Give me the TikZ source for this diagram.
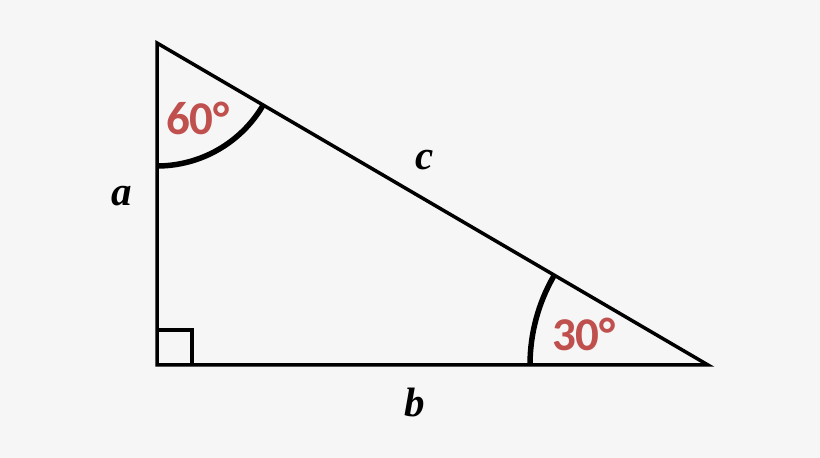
\documentclass[tikz,border=0pt]{standalone}
\usepackage{fontspec}
\setmainfont{Liberation Serif}
\newfontfamily\numfont{Carlito}
\definecolor{bgc}{HTML}{F6F6F6}
\definecolor{angred}{HTML}{C0504D}
\tikzset{
  side/.style={line width=3.5pt, line join=miter},
  anglearc/.style={line width=5.5pt},
  anglelabel/.style={font=\numfont\bfseries\fontsize{47}{50}\selectfont, text=angred, inner sep=0pt},
  sidelabel/.style={font=\bfseries\itshape\fontsize{41}{44}\selectfont, inner sep=0pt}
}
\begin{document}
\begin{tikzpicture}[x=1pt,y=1pt]
\fill[bgc] (0,0) rectangle (820,458);
\useasboundingbox (0,0) rectangle (820,458);
\coordinate (A) at (157,415);
\coordinate (C) at (157,93);
\coordinate (B) at (708,93);
\draw[side] (A) -- (C) -- (B) -- cycle;
\draw[line width=3.5pt] ([yshift=35pt]C) -| ([xshift=35pt]C);
\draw[anglearc] ([yshift=-123pt]A) arc[start angle=-90, end angle=-30, radius=123pt];
\draw[anglearc] ([xshift=-178pt]B) arc[start angle=180, end angle=150, radius=178pt];
\node[anglelabel] (n60) at (198,340) {60°};
\node[anglelabel] (n30) at (584,124) {30°};
\node[sidelabel] (la) at (122,262) {a};
\node[sidelabel] (lc) at (425,298) {c};
\node[sidelabel] (lb) at (415,55) {b};
\end{tikzpicture}
\end{document}
